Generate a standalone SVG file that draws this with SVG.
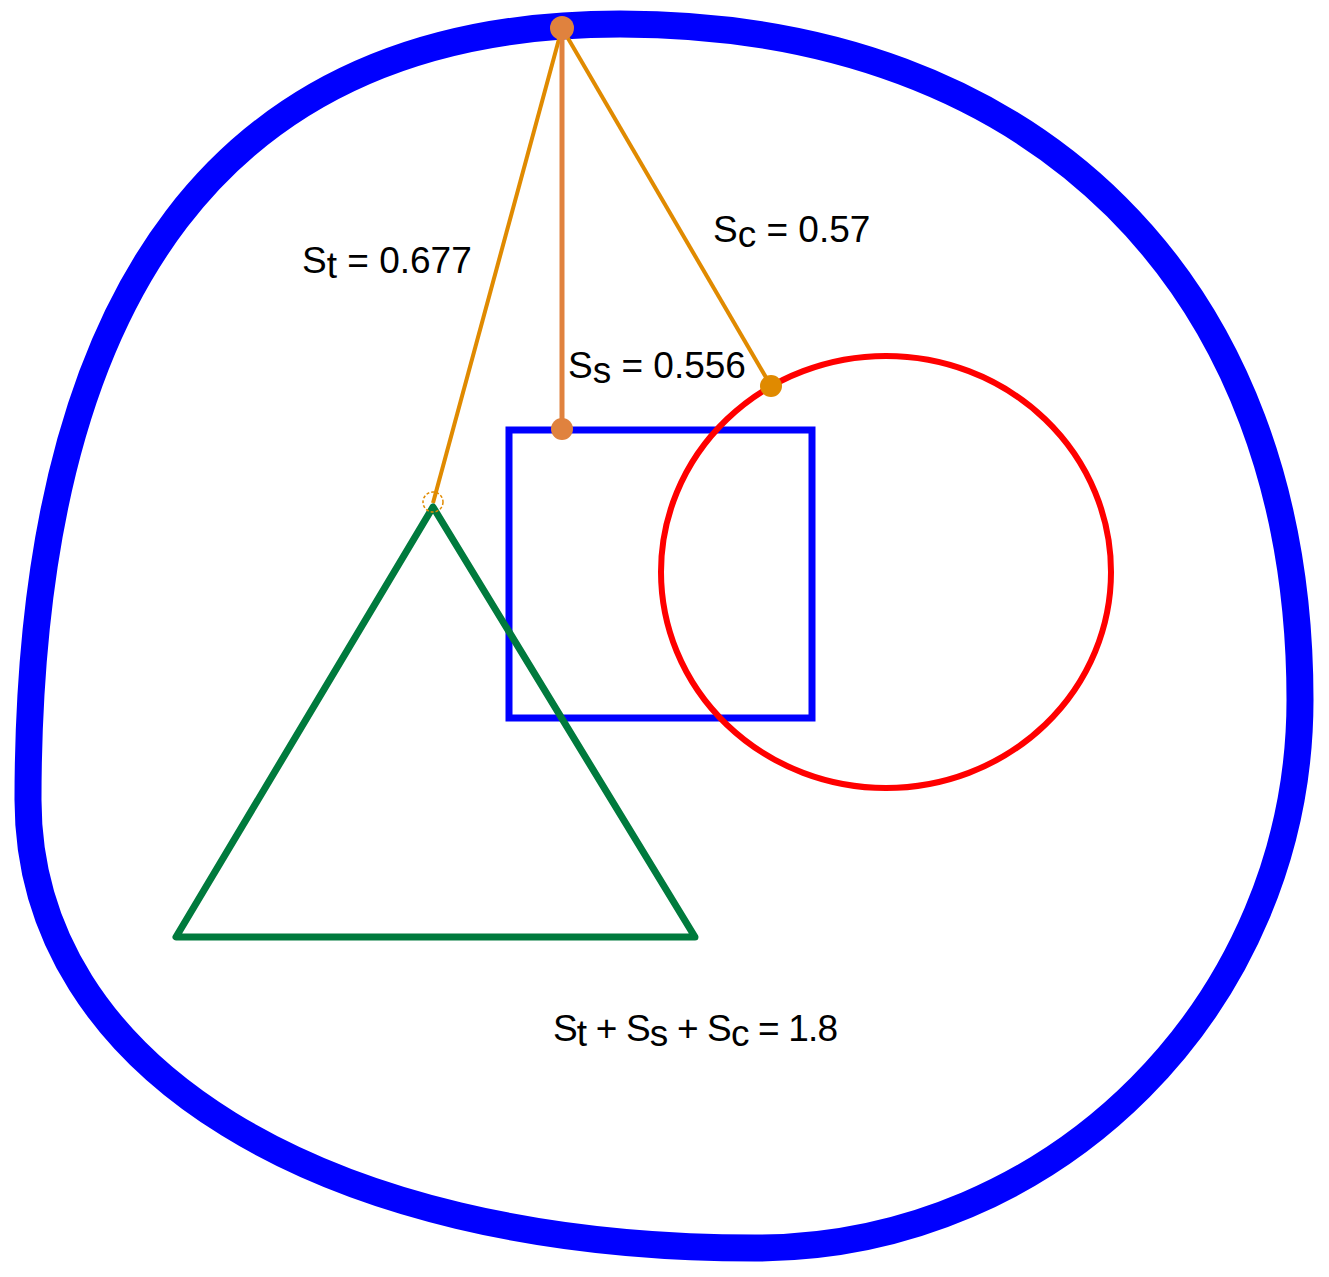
<svg xmlns="http://www.w3.org/2000/svg" width="1329" height="1277" viewBox="0 0 1329 1277">
  <style>
    .lbl { font-family: "Liberation Sans", Arial, sans-serif; font-size: 37px; fill: #000; }
    .orange { stroke: #E08A00; stroke-width: 4; fill: none; }
  </style>
  <rect width="1329" height="1277" fill="#fff"/>
  <g id="outer-blob">
    <path d="M 620 24 C 1037 24, 1300 286, 1300 700 C 1300 1002, 1056 1248, 755 1248 C 321 1248, 28 1067, 28 800 C 28 285, 227 24, 620 24 Z" fill="none" stroke="#0000FF" stroke-width="27"/>
  </g>
  <g id="square">
    <rect x="509" y="430" width="303" height="288" fill="none" stroke="#0000FF" stroke-width="7"/>
  </g>
  <g id="circle">
    <ellipse cx="886" cy="572" rx="225" ry="216" fill="none" stroke="#FF0000" stroke-width="6"/>
  </g>
  <g id="triangle">
    <polygon points="433,507 176,937 695,937" fill="none" stroke="#007A3D" stroke-width="7" stroke-linejoin="round"/>
  </g>
  <g id="connectors">
    <line class="orange" x1="562" y1="28" x2="433" y2="503"/>
    <line class="orange" x1="562" y1="28" x2="771" y2="386"/>
    <line x1="562" y1="28" x2="562" y2="429" stroke="#E0823E" stroke-width="5"/>
    <circle cx="562" cy="28" r="12" fill="#E0823E"/>
    <circle cx="562" cy="429" r="11" fill="#E0823E"/>
    <circle cx="771" cy="386" r="11" fill="#E08A00"/>
    <circle cx="433" cy="502" r="10" fill="none" stroke="#E08A00" stroke-width="1.5" stroke-dasharray="3 2"/>
  </g>
  <g id="labels">
    <text class="lbl" x="302" y="273">S<tspan dy="5">t</tspan><tspan dy="-5"> = 0.677</tspan></text>
    <text class="lbl" x="713" y="242">S<tspan dy="5">c</tspan><tspan dy="-5"> = 0.57</tspan></text>
    <text class="lbl" x="568" y="378">S<tspan dy="5">s</tspan><tspan dy="-5"> = 0.556</tspan></text>
    <text class="lbl" x="553" y="1041" textLength="285" lengthAdjust="spacing">S<tspan dy="5">t</tspan><tspan dy="-5"> + S</tspan><tspan dy="5">s</tspan><tspan dy="-5"> + S</tspan><tspan dy="5">c</tspan><tspan dy="-5"> = 1.8</tspan></text>
  </g>
</svg>
